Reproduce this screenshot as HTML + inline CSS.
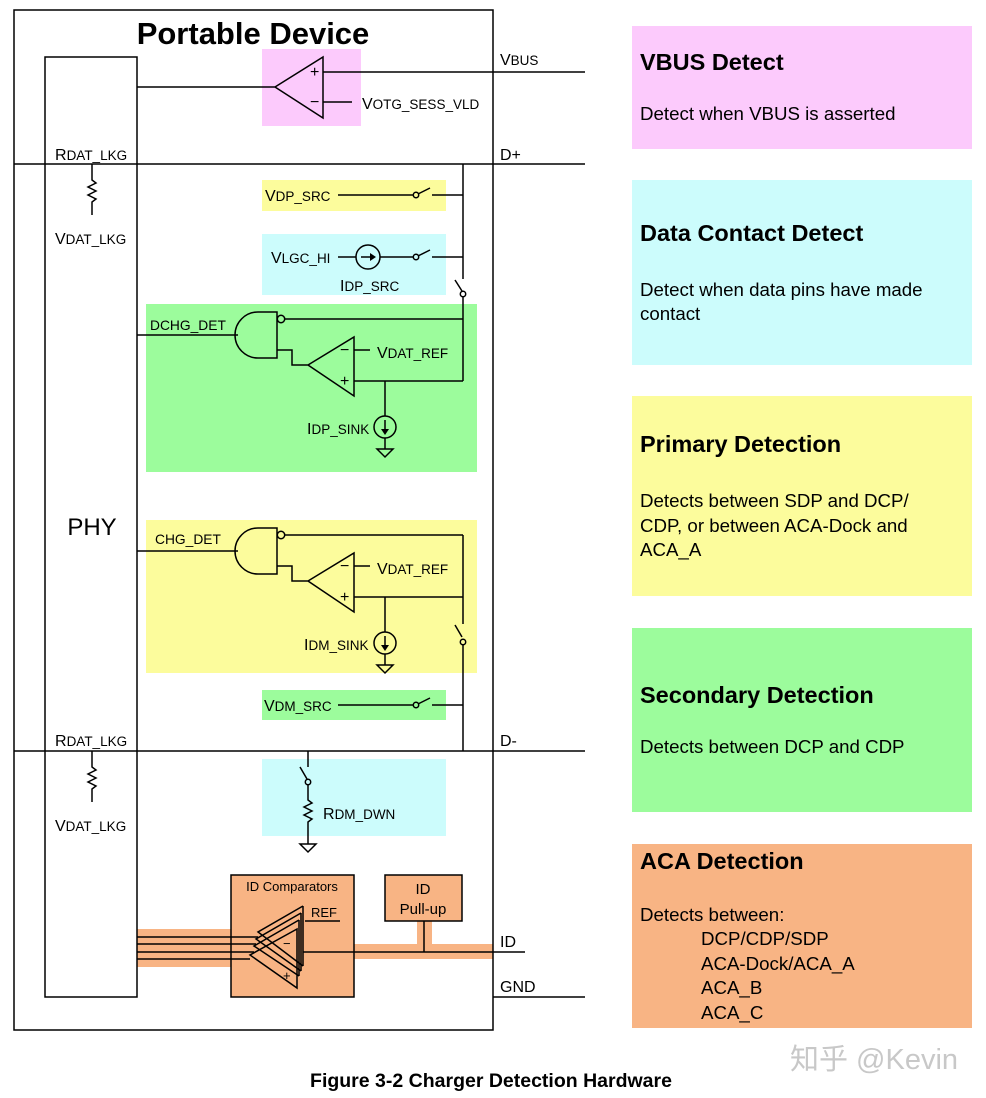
<!DOCTYPE html>
<html><head><meta charset="utf-8"><style>
html,body{margin:0;padding:0;background:#fff;}
svg{display:block;font-family:"Liberation Sans","Noto Sans CJK SC",sans-serif;}
.l{stroke:#000;stroke-width:1.5;fill:none;}
.t{font-size:16px;fill:#000;}
.s{font-size:13.5px;}
.pt{font-size:23.5px;font-weight:bold;}
.pb{font-size:18.7px;}
</style></head><body>
<svg width="986" height="1098" viewBox="0 0 986 1098" xmlns="http://www.w3.org/2000/svg">
<rect width="986" height="1098" fill="#fff"/>
<rect x="262" y="49" width="99" height="77" fill="#fccafc"/>
<rect x="262" y="180" width="184" height="31" fill="#fcfc9c"/>
<rect x="262" y="234" width="184" height="61" fill="#ccfcfc"/>
<rect x="146" y="304" width="331" height="168" fill="#9cfc9c"/>
<rect x="146" y="520" width="331" height="153" fill="#fcfc9c"/>
<rect x="262" y="690" width="184" height="30" fill="#9cfc9c"/>
<rect x="262" y="759" width="184" height="77" fill="#ccfcfc"/>
<rect x="137" y="929" width="94" height="38" fill="#f8b484"/>
<rect x="354" y="944" width="139" height="15" fill="#f8b484"/>
<rect x="417" y="921" width="15" height="25" fill="#f8b484"/>
<rect x="231" y="875" width="123" height="122" fill="#f8b484" stroke="#000" stroke-width="1.5"/>
<rect x="385" y="875" width="77" height="46" fill="#f8b484" stroke="#000" stroke-width="1.5"/>
<rect x="14" y="10" width="479" height="1020" class="l"/>
<rect x="45" y="57" width="92" height="940" class="l" fill="#fff"/>
<text x="253" y="44" text-anchor="middle" style="font-size:31px;font-weight:bold">Portable Device</text>
<text x="92" y="535" text-anchor="middle" style="font-size:24px">PHY</text>

<path class="l" d="M323 57 L323 118 L275 87 Z M137 87 H275 M323 72 H585 M323 102 H352"/>
<text x="310" y="77" class="t">+</text><text x="310" y="107" class="t">−</text>
<text x="500" y="65" class="t">V<tspan class="s">BUS</tspan></text>
<text x="362" y="109" class="t">V<tspan class="s">OTG_SESS_VLD</tspan></text>

<path class="l" d="M14 164 H585"/>
<text x="55" y="160" class="t">R<tspan class="s">DAT_LKG</tspan></text>
<text x="500" y="160" class="t">D+</text>
<path class="l" d="M92 164 V180 l4 3 l-8 4 l8 4 l-8 4 l8 4 l-4 3 V215"/>
<text x="55" y="244" class="t">V<tspan class="s">DAT_LKG</tspan></text>

<text x="265" y="201" class="t">V<tspan class="s">DP_SRC</tspan></text>
<path class="l" d="M338 195 H413 M418 194 L430 188 M432 195 H463"/>
<circle cx="416" cy="195" r="2.7" class="l" fill="#fff"/>
<path class="l" d="M463 164 V279"/>
<text x="271" y="263" class="t">V<tspan class="s">LGC_HI</tspan></text>
<path class="l" d="M338 257 H356 M380 257 H413 M418 256 L430 250 M432 257 H463"/>
<circle cx="368" cy="257" r="12" class="l"/>
<path class="l" d="M361 257 H374"/><path d="M376 257 l-6 -4 v8 z" fill="#000"/>
<circle cx="416" cy="257" r="2.7" class="l" fill="#fff"/>
<text x="340" y="291" class="t">I<tspan class="s">DP_SRC</tspan></text>
<path class="l" d="M455 280 L462 291"/>
<circle cx="463" cy="294" r="2.7" class="l" fill="#fff"/>
<path class="l" d="M463 297 V381"/>

<g id="sec1">
<path class="l" d="M277 312 H258 A23 23 0 0 0 258 358 H277 Z M238 335 H137 M285 319 H463 M277 350 H292 V365 H308 M308 365 L354 337 V396 Z M354 350 H370 M354 381 H463 M385 381 V416 M385 438 V449 M377 449 H393 L385 457 Z"/>
<circle cx="281" cy="319" r="3.7" class="l" fill="#fff"/>
<text x="340" y="355" class="t">−</text><text x="340" y="386" class="t">+</text>
<circle cx="385" cy="427" r="11" class="l"/>
<path class="l" d="M385 420 V432"/><path d="M385 435 l-4 -6 h8 z" fill="#000"/>
</g>
<text x="150" y="330" style="font-size:13.8px">DCHG_DET</text>
<text x="377" y="358" class="t">V<tspan class="s">DAT_REF</tspan></text>
<text x="307" y="434" class="t">I<tspan class="s">DP_SINK</tspan></text>

<use href="#sec1" transform="translate(0,216)"/>
<text x="155" y="544" style="font-size:13.8px">CHG_DET</text>
<text x="377" y="574" class="t">V<tspan class="s">DAT_REF</tspan></text>
<text x="304" y="650" class="t">I<tspan class="s">DM_SINK</tspan></text>
<path class="l" d="M463 535 V597 M463 597 V624 M455 625 L462 637 M463 645 V751"/>
<circle cx="463" cy="642" r="2.7" class="l" fill="#fff"/>

<text x="264" y="711" class="t">V<tspan class="s">DM_SRC</tspan></text>
<path class="l" d="M338 705 H413 M418 704 L430 698 M432 705 H463"/>
<circle cx="416" cy="705" r="2.7" class="l" fill="#fff"/>

<path class="l" d="M14 751 H585"/>
<text x="55" y="746" class="t">R<tspan class="s">DAT_LKG</tspan></text>
<text x="500" y="746" class="t">D-</text>
<path class="l" d="M92 751 V767 l4 3 l-8 4 l8 4 l-8 4 l8 4 l-4 3 V802"/>
<text x="55" y="831" class="t">V<tspan class="s">DAT_LKG</tspan></text>

<path class="l" d="M308 751 V767 M300 767 L307 779 M308 785 V800 l4 3 l-8 4 l8 4 l-8 4 l8 4 l-4 3 V844 M300 844 H316 L308 852 Z"/>
<circle cx="308" cy="782" r="2.7" class="l" fill="#fff"/>
<text x="323" y="819" class="t">R<tspan class="s">DM_DWN</tspan></text>

<text x="292" y="891" text-anchor="middle" style="font-size:13px">ID Comparators</text>
<text x="423" y="894" text-anchor="middle" style="font-size:15px">ID</text>
<text x="423" y="914" text-anchor="middle" style="font-size:15px">Pull-up</text>
<text x="311" y="917" style="font-size:13px">REF</text>
<path class="l" d="M305 921 H340"/>
<g class="l" fill="#f8b484">
<path d="M303 906 L258 932 L303 966"/>
<path d="M301 913 L256 939 L301 971"/>
<path d="M299 920 L254 946 L299 976"/>
<path d="M297 929 L250 955 L297 988 Z"/>
</g>
<path class="l" d="M303 906 V966 M301 913 V971 M299 920 V976"/>
<text x="283" y="948" style="font-size:13px">−</text><text x="283" y="980" style="font-size:13px">+</text>
<path class="l" d="M137 937 H258 M137 944 H256 M137 952 H254 M137 959 H250 M303 952 H525 M424 921 V952 M493 997 H585"/>
<text x="500" y="947" class="t">ID</text>
<text x="500" y="992" class="t">GND</text>

<rect x="632" y="26" width="340" height="123" fill="#fccafc"/>
<text x="640" y="70" class="pt">VBUS Detect</text>
<text x="640" y="120" class="pb">Detect when VBUS is asserted</text>
<rect x="632" y="180" width="340" height="185" fill="#ccfcfc"/>
<text x="640" y="241" class="pt">Data Contact Detect</text>
<text x="640" y="296" class="pb">Detect when data pins have made</text>
<text x="640" y="320" class="pb">contact</text>
<rect x="632" y="396" width="340" height="200" fill="#fcfc9c"/>
<text x="640" y="452" class="pt">Primary Detection</text>
<text x="640" y="507" class="pb">Detects between SDP and DCP/</text>
<text x="640" y="532" class="pb">CDP, or between ACA-Dock and</text>
<text x="640" y="556" class="pb">ACA_A</text>
<rect x="632" y="628" width="340" height="184" fill="#9cfc9c"/>
<text x="640" y="703" class="pt">Secondary Detection</text>
<text x="640" y="753" class="pb">Detects between DCP and CDP</text>
<rect x="632" y="844" width="340" height="184" fill="#f8b484"/>
<text x="640" y="869" class="pt">ACA Detection</text>
<text x="640" y="921" class="pb">Detects between:</text>
<text x="701" y="945" class="pb">DCP/CDP/SDP</text>
<text x="701" y="970" class="pb">ACA-Dock/ACA_A</text>
<text x="701" y="994" class="pb">ACA_B</text>
<text x="701" y="1019" class="pb">ACA_C</text>

<text x="790" y="1069" style="font-size:29px;fill:#c8c8c8">知乎 @Kevin</text>
<text x="491" y="1087" text-anchor="middle" style="font-size:19.5px;font-weight:bold">Figure 3-2  Charger Detection Hardware</text>
</svg>
</body></html>
